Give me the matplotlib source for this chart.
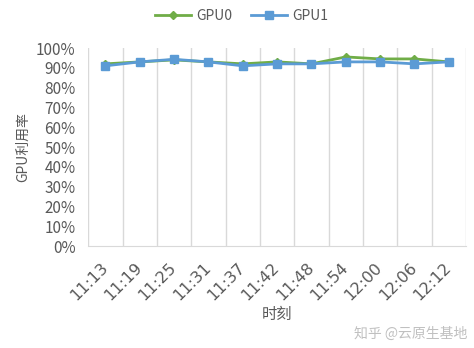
import matplotlib
matplotlib.use("Agg")
import matplotlib.pyplot as plt
from matplotlib.ticker import FuncFormatter, MultipleLocator

plt.rcParams['font.family'] = ['Noto Sans CJK SC', 'DejaVu Sans']

times = ["11:13", "11:19", "11:25", "11:31", "11:37", "11:42",
         "11:48", "11:54", "12:00", "12:06", "12:12"]
gpu0 = [92, 93, 94, 93, 92, 93, 92, 95.5, 94.5, 94.5, 93]
gpu1 = [91, 93, 94.3, 93, 91, 92, 92, 93, 93, 92, 93]

green = "#70ad47"
blue = "#5b9bd5"
grey = "#595959"

fig = plt.figure(figsize=(4.74, 3.48), dpi=100)
ax = fig.add_axes([0.186, 0.293, 0.797, 0.569])

x = list(range(len(times)))
ax.plot(x, gpu0, color=green, lw=2, marker="D", ms=4, label="GPU0", zorder=3)
ax.plot(x, gpu1, color=blue, lw=2, marker="s", ms=6, label="GPU1", zorder=4)

ax.set_xlim(-0.5, len(times) - 0.5)
ax.set_ylim(0, 100)
ax.yaxis.set_major_locator(MultipleLocator(10))
ax.yaxis.set_major_formatter(FuncFormatter(lambda v, p: f"{int(v)}%"))

# category boundaries as gridlines, like excel
for b in range(len(times) + 1):
    ax.axvline(b - 0.5, color="#d9d9d9", lw=1, zorder=1)

ax.set_xticks(x)
ax.set_xticklabels(times, rotation=45, ha="right", va="center",
                   rotation_mode="anchor", fontsize=11.5, color=grey,
                   family="DejaVu Sans")
ax.tick_params(axis="y", labelsize=11, colors=grey, length=0, pad=9)
ax.tick_params(axis="x", length=0, pad=14)
for s in ["top", "right", "left"]:
    ax.spines[s].set_visible(False)
ax.spines["bottom"].set_color("#d9d9d9")

ax.set_xlabel("时刻", fontsize=11, color=grey, labelpad=2)
ax.set_ylabel("GPU利用率", fontsize=10, color=grey, labelpad=4)

fig.legend(loc="upper center", bbox_to_anchor=(0.51, 1.01), ncol=2, frameon=False,
           fontsize=10, labelcolor=grey, handlelength=2.6, columnspacing=1.3,
           handletextpad=0.4)

fig.text(0.985, 0.02, "知乎 @云原生基地", ha="right", va="bottom",
         fontsize=10, color="#c0c0c0")

fig.savefig("out.png", dpi=100)
